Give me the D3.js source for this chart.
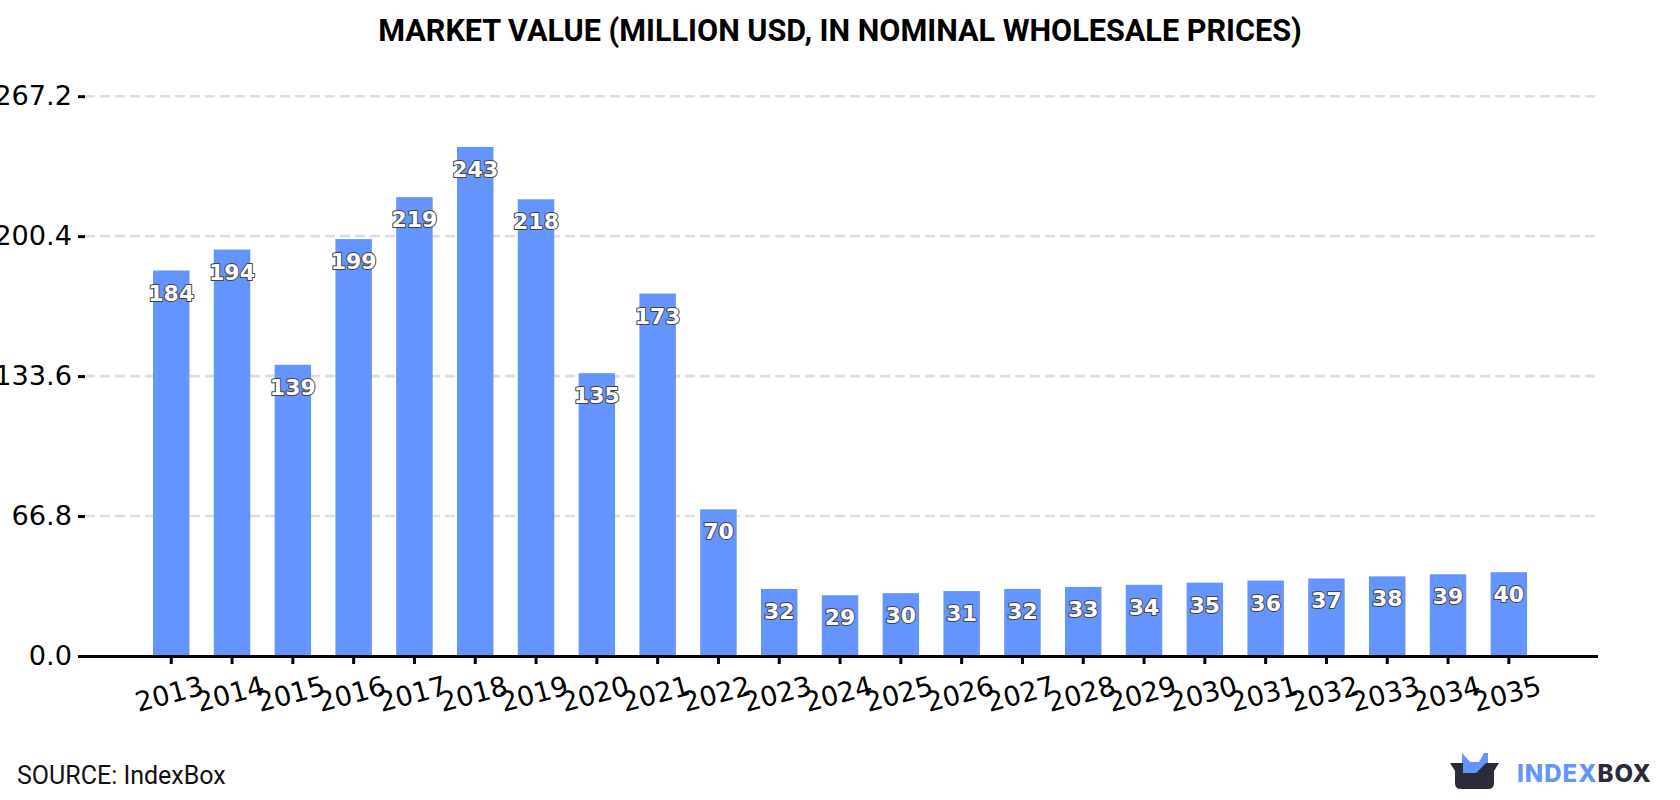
<!DOCTYPE html>
<html>
<head>
<meta charset="utf-8">
<title>Market value</title>
<script src="https://cdn.jsdelivr.net/npm/d3@7"></script>
<style>
html,body{margin:0;padding:0;background:#fff;overflow:hidden}
svg{display:block}
</style>
</head>
<body>
<svg id="chart" width="1680" height="800"></svg>
<script>
const years = [2013,2014,2015,2016,2017,2018,2019,2020,2021,2022,2023,2024,2025,2026,2027,2028,2029,2030,2031,2032,2033,2034,2035];
const marketValue = [184,194,139,199,219,243,218,135,173,70,32,29,30,31,32,33,34,35,36,37,38,39,40];
const yTicks = [0,66.8,133.6,200.4,267.2];
const titleText = "MARKET VALUE (MILLION USD, IN NOMINAL WHOLESALE PRICES)";
const sourceText = "SOURCE: IndexBox";

const svg = d3.select("#chart");
const plotLeft = 85, plotRight = 1598, plotTop = 96.2, plotBottom = 656;
const tickFont = "'DejaVu Sans'";

const x = d3.scaleBand().domain(years).range([78, plotRight])
  .paddingInner(0.4).paddingOuter(1.2).align(0.514);
const y = d3.scaleLinear().domain([0, 267.2]).range([plotBottom, plotTop]);

svg.append("text").attr("x", 840).attr("y", 41).attr("text-anchor", "middle")
  .attr("font-family", "Roboto").attr("font-weight", 700).attr("font-size", 30.6)
  .attr("fill", "#000").text(titleText);

// Dashed horizontal grid
svg.append("g").selectAll("line").data(yTicks.filter(d => d > 0)).join("line")
  .attr("x1", plotLeft).attr("x2", plotRight - 1)
  .attr("y1", d => y(d)).attr("y2", d => y(d))
  .attr("stroke", "#dedede").attr("stroke-width", 2.6).attr("stroke-dasharray", "10 5");

// Bars
svg.append("g").selectAll("rect").data(marketValue).join("rect")
  .attr("x", (d, i) => x(years[i]))
  .attr("y", d => y(d))
  .attr("width", x.bandwidth())
  .attr("height", d => y(0) - y(d))
  .attr("fill", "#6495ff");

// Value axis
const yAxis = svg.append("g").attr("transform", `translate(${plotLeft},0)`)
  .call(d3.axisLeft(y).tickValues(yTicks).tickFormat(d3.format(".1f")).tickSize(7).tickPadding(6));
yAxis.select(".domain").remove();
yAxis.selectAll("line").attr("stroke", "#000").attr("stroke-width", 3);
yAxis.selectAll("text").attr("font-family", tickFont).attr("font-size", 27.2).attr("fill", "#000");

// Year axis with slanted labels
const xAxis = svg.append("g").attr("transform", `translate(0,${plotBottom})`)
  .call(d3.axisBottom(x).tickSize(8).tickSizeOuter(0).tickPadding(0));
xAxis.select(".domain").attr("stroke", "#000").attr("stroke-width", 3)
  .attr("d", `M78,0.5H${plotRight}`);
xAxis.selectAll("line").attr("stroke", "#000").attr("stroke-width", 3);
xAxis.selectAll("text")
  .attr("font-family", tickFont).attr("font-size", 27.2).attr("fill", "#000")
  .attr("text-anchor", "middle").attr("dy", null).attr("y", 0)
  .attr("transform", "translate(0.5,47) rotate(-15)");

// Value labels inside the bars
svg.append("g").selectAll("text").data(marketValue).join("text")
  .attr("x", (d, i) => x(years[i]) + x.bandwidth() / 2)
  .attr("y", d => y(d) + 30)
  .attr("text-anchor", "middle")
  .attr("font-family", tickFont).attr("font-weight", 700).attr("font-size", 22)
  .attr("fill", "#fff").attr("stroke", "#444").attr("stroke-width", 2)
  .attr("paint-order", "stroke").attr("stroke-linejoin", "round")
  .text(d => d);

svg.append("text").attr("x", 17).attr("y", 784)
  .attr("font-family", "Roboto").attr("font-size", 25).attr("fill", "#111").text(sourceText);

// Brand mark: open box with a blue shape rising out of it
const logo = svg.append("g");
logo.append("path")
  .attr("d", "M1462,753 L1470,762 L1479,762 L1484,753 L1488,753 L1488,765 L1479,778 L1462,778 Z")
  .attr("fill", "#6495ff");
logo.append("path")
  .attr("d", "M1450,763 L1463,763 L1463,773 L1476,773 L1486,763 L1499,763 L1494,771 L1494,783 Q1494,789 1488,789 L1461,789 Q1455,789 1455,783 L1455,771 Z")
  .attr("fill", "#2b2c3a");
const brand = svg.append("text").attr("x", 1517).attr("y", 782)
  .attr("font-family", "Inter, Roboto").attr("font-weight", 800).attr("font-size", 24)
  .attr("letter-spacing", 1);
brand.append("tspan").attr("fill", "#6495ff").text("INDEX");
brand.append("tspan").attr("fill", "#2b2c3a").text("BOX");
</script>
</body>
</html>
